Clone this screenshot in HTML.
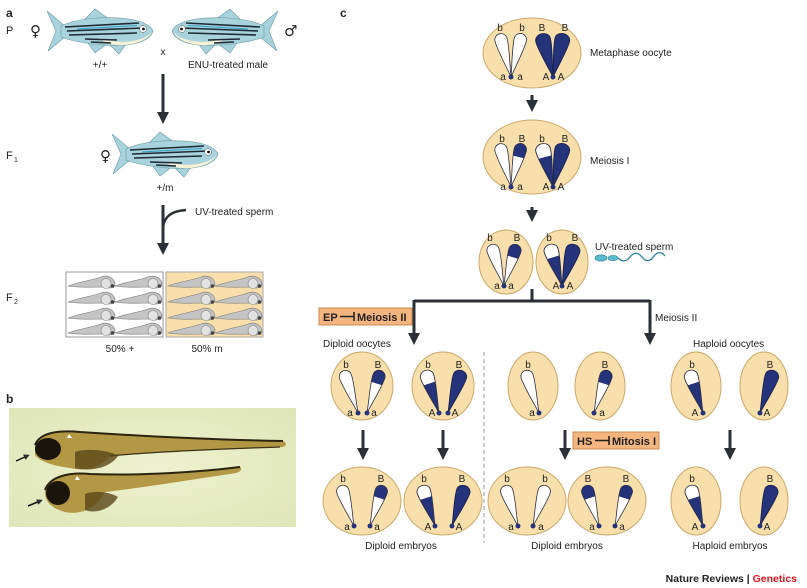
<!DOCTYPE html>
<html><head><meta charset="utf-8"><style>
html,body{margin:0;padding:0;background:#fff}
svg{display:block}
text{font-family:"Liberation Sans",Arial,sans-serif;fill:#222}
.l{font-size:10px}
.c{font-size:11px}
.h{font-size:12px;font-weight:bold}
.sym{font-family:"DejaVu Sans",sans-serif;font-size:15px}
</style></head><body>
<svg width="807" height="588" viewBox="0 0 807 588" xmlns="http://www.w3.org/2000/svg">
<defs>
<path id="P" d="M0,0 C-1.5,-10 -6.2,-29 -6.2,-38.5 A6.2,6.2 0 0 1 6.2,-38.5 C6.2,-29 1.5,-10 0,0Z"/>
<clipPath id="top"><rect x="-10" y="-50" width="20" height="19"/></clipPath>
<g id="W"><use href="#P" fill="#fff" stroke="#2a2f45" stroke-width="0.8"/></g>
<g id="K"><use href="#P" fill="#25337a" stroke="#1a2250" stroke-width="0.8"/></g>
<g id="WB"><use href="#P" fill="#fff"/><use href="#P" fill="#25337a" clip-path="url(#top)"/><use href="#P" fill="none" stroke="#2a2f45" stroke-width="0.8"/></g>
<g id="BW"><use href="#P" fill="#25337a"/><use href="#P" fill="#fff" clip-path="url(#top)"/><use href="#P" fill="none" stroke="#2a2f45" stroke-width="0.8"/></g>
<marker id="ar" markerWidth="4" markerHeight="4" refX="2" refY="2" orient="auto" markerUnits="strokeWidth"><path d="M0,0 L4,2 L0,4 Z" fill="#2a3035"/></marker>
<g id="fish">
<path d="M0,2 L18,17 L18,28 L1,42 L9,22 Z" fill="#a9d3dc" stroke="#6a9aa5" stroke-width="0.6"/>
<path d="M36,12 L48,0 L62,10 Z" fill="#a9d3dc" stroke="#6a9aa5" stroke-width="0.6"/>
<path d="M40,33 L48,44 L60,35 Z M62,35 L72,45 L80,34 Z" fill="#a9d3dc" stroke="#6a9aa5" stroke-width="0.6"/>
<path d="M14,17 C30,9 60,7 82,10 C96,12 104,17 106,22 C104,29 95,34 80,36 C60,38 30,34 14,28 Z" fill="#a9d3dc" stroke="#6a9aa5" stroke-width="0.6"/>
<path d="M52,29 C75,36 95,33 105,23 C100,31 90,35 78,36 C66,37 58,34 52,29Z" fill="#f7f1d6"/>
<path d="M18,18 L92,14 M20,22 L96,19 M22,26 L90,24 M38,30 L70,31 M44,33 L64,34" stroke="#1d2a33" stroke-width="1.6" fill="none"/>
<path d="M30,20 L90,16.5" stroke="#2aa0c4" stroke-width="1"/>
<circle cx="96" cy="20" r="3.4" fill="#fff" stroke="#555" stroke-width="0.5"/><circle cx="96.5" cy="20" r="1.4" fill="#111"/>
</g>
<g id="lv">
<path d="M0,12 C10,8 25,6 33,3 C40,0 47,5 47,10 C47,14 41,15 35,13 C25,13 10,14 0,12 Z" fill="#c4c4c4" stroke="#7a7a7a" stroke-width="0.6"/>
<circle cx="38" cy="9.5" r="5" fill="#e2e2e2" stroke="#888" stroke-width="0.6"/>
<circle cx="44.5" cy="12" r="1.8" fill="#444"/>
</g>
<radialGradient id="bg" cx="0.5" cy="0.5" r="0.7"><stop offset="0" stop-color="#eef2cf"/><stop offset="1" stop-color="#dfe6b8"/></radialGradient>
</defs>

<!-- Panel a -->
<text x="6" y="17" class="h">a</text>
<text x="6" y="34" class="c" fill="#444">P</text>
<text x="30" y="36" class="sym">♀</text>
<use href="#fish" transform="translate(47,9)"/>
<use href="#fish" transform="translate(278,9) scale(-1,1)"/>
<text x="284" y="36" class="sym">♂</text>
<text x="163" y="55" class="l" text-anchor="middle">x</text>
<text x="100" y="68" class="l" text-anchor="middle">+/+</text>
<text x="228" y="68" class="l" text-anchor="middle">ENU-treated male</text>
<line x1="163" y1="74" x2="163" y2="118" stroke="#2a3035" stroke-width="3" marker-end="url(#ar)"/>
<text x="6" y="159" class="c" fill="#444">F</text><text x="14" y="162" style="font-size:7px" fill="#444">1</text>
<text x="100" y="161" class="sym">♀</text>
<use href="#fish" transform="translate(112,132)"/>
<text x="165" y="191" class="l" text-anchor="middle">+/m</text>
<line x1="163" y1="205" x2="163" y2="249" stroke="#2a3035" stroke-width="3" marker-end="url(#ar)"/>
<path d="M186,210 C172,211 164,216 163,228" stroke="#2a3035" stroke-width="2.4" fill="none"/>
<text x="195" y="215" class="l">UV-treated sperm</text>
<text x="6" y="301" class="c" fill="#444">F</text><text x="14" y="304" style="font-size:7px" fill="#444">2</text>
<rect x="66" y="272" width="97" height="65" fill="#fff" stroke="#999" stroke-width="1"/>
<rect x="166" y="272" width="97" height="65" fill="#f9dfab" stroke="#aaa" stroke-width="1"/>
<g>
<use href="#lv" x="68" y="274"/><use href="#lv" x="115" y="274"/><use href="#lv" x="68" y="290"/><use href="#lv" x="115" y="290"/>
<use href="#lv" x="68" y="306"/><use href="#lv" x="115" y="306"/><use href="#lv" x="68" y="321"/><use href="#lv" x="115" y="321"/>
<use href="#lv" x="168" y="274"/><use href="#lv" x="215" y="274"/><use href="#lv" x="168" y="290"/><use href="#lv" x="215" y="290"/>
<use href="#lv" x="168" y="306"/><use href="#lv" x="215" y="306"/><use href="#lv" x="168" y="321"/><use href="#lv" x="215" y="321"/>
</g>
<text x="120" y="352" class="l" text-anchor="middle">50% +</text>
<text x="207" y="352" class="l" text-anchor="middle">50% m</text>

<!-- Panel b -->
<text x="6" y="403" class="h">b</text>
<rect x="9" y="408" width="287" height="119" fill="url(#bg)"/>
<path d="M35,445 C40,432 60,430 80,432 C140,436 220,440 283,441 C288,443 286,448 280,447 C220,449 150,452 110,456 C100,468 85,472 70,468 C55,466 40,462 35,455 Z" fill="#a98a2e" opacity="0.85"/>
<path d="M35,445 C40,432 60,430 80,432 C140,436 220,440 283,441" stroke="#2a2410" stroke-width="2" fill="none"/>
<path d="M110,456 C150,452 220,449 280,447" stroke="#3a3015" stroke-width="1.2" fill="none"/>
<ellipse cx="48" cy="449" rx="13" ry="11" fill="#1a140a"/>
<path d="M75,452 C85,448 110,450 118,456 C110,468 90,472 75,468Z" fill="#5a4618" opacity="0.8"/>
<path d="M45,490 C50,476 70,472 90,474 C140,476 200,472 240,467 C243,469 240,472 236,473 C190,480 140,488 105,492 C95,510 80,515 65,512 C50,508 44,500 45,490 Z" fill="#a98a2e" opacity="0.85"/>
<path d="M45,490 C50,476 70,472 90,474 C140,476 200,472 240,467" stroke="#2a2410" stroke-width="2" fill="none"/>
<ellipse cx="58" cy="493" rx="12" ry="12" fill="#1a140a"/>
<path d="M85,494 C95,490 110,492 118,497 C110,510 95,514 85,510Z" fill="#5a4618" opacity="0.8"/>
<line x1="16" y1="461" x2="27" y2="456" stroke="#111" stroke-width="1.5" marker-end="url(#ar)"/>
<line x1="28" y1="506" x2="40" y2="501" stroke="#111" stroke-width="1.5" marker-end="url(#ar)"/>
<path d="M69,434 l3,4 l-5,0z M77,476 l3,4 l-5,0z" fill="#fff"/>

<!-- Panel c -->
<text x="340" y="17" class="h">c</text>
<g fill="#f9dfab" stroke="#c9a96a" stroke-width="1">
<ellipse cx="532" cy="53" rx="49" ry="35"/>
<ellipse cx="532" cy="157" rx="49" ry="37"/>
<ellipse cx="506" cy="262" rx="27" ry="32"/>
<ellipse cx="562" cy="262" rx="26" ry="32"/>
<ellipse cx="362" cy="386" rx="31" ry="34"/>
<ellipse cx="443" cy="386" rx="31" ry="34"/>
<ellipse cx="533" cy="386" rx="25" ry="34"/>
<ellipse cx="600" cy="386" rx="25" ry="34"/>
<ellipse cx="696" cy="386" rx="25" ry="34"/>
<ellipse cx="764" cy="386" rx="24" ry="34"/>
<ellipse cx="362" cy="501" rx="39" ry="34"/>
<ellipse cx="443" cy="501" rx="39" ry="34"/>
<ellipse cx="527" cy="501" rx="39" ry="34"/>
<ellipse cx="607" cy="501" rx="39" ry="34"/>
<ellipse cx="696" cy="501" rx="25" ry="34"/>
<ellipse cx="764" cy="501" rx="24" ry="34"/>
</g>

<!-- chromatids -->
<use href="#W" transform="translate(511,77) rotate(-15)"/>
<use href="#W" transform="translate(511,77) rotate(14)"/>
<use href="#K" transform="translate(553,77) rotate(-15) scale(1.2,1.0)"/>
<use href="#K" transform="translate(553,77) rotate(14) scale(1.2,1.0)"/>

<use href="#W" transform="translate(511,187) rotate(-15)"/>
<use href="#WB" transform="translate(511,187) rotate(14)"/>
<use href="#BW" transform="translate(553,187) rotate(-15) scale(1.2,1)"/>
<use href="#K" transform="translate(553,187) rotate(14) scale(1.2,1)"/>

<use href="#W" transform="translate(504,286) rotate(-17) scale(1,0.97)"/>
<use href="#WB" transform="translate(504,286) rotate(17) scale(1,0.97)"/>
<use href="#BW" transform="translate(562,286) rotate(-17) scale(1.15,0.97)"/>
<use href="#K" transform="translate(562,286) rotate(17) scale(1.15,0.97)"/>

<use href="#W" transform="translate(358,413) rotate(-19)"/>
<use href="#WB" transform="translate(367,413) rotate(18)"/>
<use href="#BW" transform="translate(439,413) rotate(-18) scale(1.1,1)"/>
<use href="#K" transform="translate(448,413) rotate(18) scale(1.1,1)"/>
<use href="#W" transform="translate(539,413) rotate(-18)"/>
<use href="#WB" transform="translate(594,413) rotate(18)"/>
<use href="#BW" transform="translate(703,413) rotate(-18) scale(1.1,1)"/>
<use href="#K" transform="translate(760,413) rotate(18) scale(1.1,1)"/>

<use href="#W" transform="translate(354,526) rotate(-18) scale(1,0.95)"/>
<use href="#WB" transform="translate(370,526) rotate(18) scale(1,0.95)"/>
<use href="#BW" transform="translate(435,526) rotate(-18) scale(1.1,0.95)"/>
<use href="#K" transform="translate(452,526) rotate(18) scale(1.1,0.95)"/>
<use href="#W" transform="translate(518,526) rotate(-18) scale(1,0.95)"/>
<use href="#W" transform="translate(533,526) rotate(18) scale(1,0.95)"/>
<use href="#WB" transform="translate(599,526) rotate(-18) scale(1,0.95)"/>
<use href="#WB" transform="translate(615,526) rotate(18) scale(1,0.95)"/>
<use href="#BW" transform="translate(703,526) rotate(-18) scale(1.1,0.95)"/>
<use href="#K" transform="translate(760,526) rotate(18) scale(1.1,0.95)"/>

<g fill="#25337a">
<circle cx="511" cy="77" r="2.5"/><circle cx="553" cy="77" r="2.5"/>
<circle cx="511" cy="187" r="2.5"/><circle cx="553" cy="187" r="2.5"/>
<circle cx="504" cy="286" r="2.5"/><circle cx="562" cy="286" r="2.5"/>
<circle cx="358" cy="413" r="2.5"/><circle cx="367" cy="413" r="2.5"/><circle cx="439" cy="413" r="2.5"/><circle cx="448" cy="413" r="2.5"/>
<circle cx="539" cy="413" r="2.5"/><circle cx="594" cy="413" r="2.5"/><circle cx="703" cy="413" r="2.5"/><circle cx="760" cy="413" r="2.5"/>
<circle cx="354" cy="526" r="2.5"/><circle cx="370" cy="526" r="2.5"/><circle cx="435" cy="526" r="2.5"/><circle cx="452" cy="526" r="2.5"/>
<circle cx="518" cy="526" r="2.5"/><circle cx="533" cy="526" r="2.5"/><circle cx="599" cy="526" r="2.5"/><circle cx="615" cy="526" r="2.5"/>
<circle cx="703" cy="526" r="2.5"/><circle cx="760" cy="526" r="2.5"/>
</g>

<g class="l" text-anchor="middle" style="font-size:10px">
<text x="500" y="31">b</text><text x="522" y="31">b</text><text x="542" y="31">B</text><text x="565" y="31">B</text>
<text x="503" y="80">a</text><text x="520" y="80">a</text><text x="546" y="80">A</text><text x="561" y="80">A</text>
<text x="502" y="142">b</text><text x="522" y="142">B</text><text x="542" y="142">b</text><text x="565" y="142">B</text>
<text x="503" y="190">a</text><text x="520" y="190">a</text><text x="546" y="190">A</text><text x="561" y="190">A</text>
<text x="490" y="241">b</text><text x="517" y="241">B</text><text x="549" y="241">b</text><text x="575" y="241">B</text>
<text x="497" y="289">a</text><text x="511" y="289">a</text><text x="556" y="289">A</text><text x="570" y="289">A</text>

<text x="346" y="368">b</text><text x="378" y="368">B</text><text x="428" y="368">b</text><text x="459" y="368">B</text>
<text x="528" y="368">b</text><text x="605" y="368">B</text><text x="692" y="368">b</text><text x="770" y="368">B</text>
<text x="350" y="416">a</text><text x="374" y="416">a</text><text x="432" y="416">A</text><text x="455" y="416">A</text>
<text x="532" y="416">a</text><text x="602" y="416">a</text><text x="695" y="416">A</text><text x="767" y="416">A</text>

<text x="343" y="482">b</text><text x="381" y="482">B</text><text x="424" y="482">b</text><text x="462" y="482">B</text>
<text x="507" y="482">b</text><text x="545" y="482">b</text><text x="588" y="482">B</text><text x="626" y="482">B</text>
<text x="692" y="482">b</text><text x="770" y="482">B</text>
<text x="347" y="530">a</text><text x="377" y="530">a</text><text x="428" y="530">A</text><text x="459" y="530">A</text>
<text x="511" y="530">a</text><text x="541" y="530">a</text><text x="592" y="530">a</text><text x="622" y="530">a</text>
<text x="695" y="530">A</text><text x="767" y="530">A</text>
</g>

<text x="590" y="56" class="l">Metaphase oocyte</text>
<text x="590" y="164" class="l">Meiosis I</text>
<text x="595" y="250" class="l">UV-treated sperm</text>
<g>
<ellipse cx="601" cy="258" rx="6" ry="3.2" fill="#5ab9cc" stroke="#2f8396" stroke-width="0.6"/>
<ellipse cx="613" cy="258" rx="5" ry="2.6" fill="#5ab9cc" stroke="#2f8396" stroke-width="0.6"/>
<path d="M618,258 C622,262 626,262 630,257 C634,252 638,252 642,257 C646,262 650,262 654,256 C658,251 662,252 665,256" stroke="#2f8396" stroke-width="1.3" fill="none"/>
</g>

<!-- arrows c -->
<g stroke="#2a3035" stroke-width="3" fill="none">
<line x1="532" y1="95" x2="532" y2="106" marker-end="url(#ar)"/>
<line x1="532" y1="207" x2="532" y2="216" marker-end="url(#ar)"/>
<path d="M532,289 L532,301 M414,301 L650,301"/>
<line x1="414" y1="300" x2="414" y2="339" marker-end="url(#ar)"/>
<line x1="650" y1="300" x2="650" y2="339" marker-end="url(#ar)"/>
<line x1="363" y1="430" x2="363" y2="454" marker-end="url(#ar)"/>
<line x1="443" y1="430" x2="443" y2="454" marker-end="url(#ar)"/>
<line x1="565" y1="430" x2="565" y2="454" marker-end="url(#ar)"/>
<line x1="730" y1="430" x2="730" y2="454" marker-end="url(#ar)"/>
</g>
<line x1="484" y1="352" x2="484" y2="543" stroke="#999" stroke-width="1" stroke-dasharray="4,3"/>

<rect x="319" y="308" width="93" height="17" fill="#f5b57f" stroke="#c98b55"/>
<text x="323" y="321" class="h" style="font-size:11px">EP</text>
<path d="M340,316.5 L354,316.5 M354,312 L354,321" stroke="#222" stroke-width="1.6"/>
<text x="357" y="321" class="h" style="font-size:11px">Meiosis II</text>
<text x="655" y="321" class="l">Meiosis II</text>

<rect x="573" y="432" width="86" height="17" fill="#f5b57f" stroke="#c98b55"/>
<text x="577" y="445" class="h" style="font-size:11px">HS</text>
<path d="M595,440.5 L609,440.5 M609,436 L609,445" stroke="#222" stroke-width="1.6"/>
<text x="612" y="445" class="h" style="font-size:11px">Mitosis I</text>

<text x="323" y="347" class="l">Diploid oocytes</text>
<text x="693" y="347" class="l">Haploid oocytes</text>
<text x="401" y="549" class="l" text-anchor="middle">Diploid embryos</text>
<text x="567" y="549" class="l" text-anchor="middle">Diploid embryos</text>
<text x="730" y="549" class="l" text-anchor="middle">Haploid embryos</text>

<text x="797" y="582" text-anchor="end" style="font-size:10.5px;font-weight:bold">Nature Reviews | <tspan fill="#e0191f">Genetics</tspan></text>
</svg>
</body></html>
